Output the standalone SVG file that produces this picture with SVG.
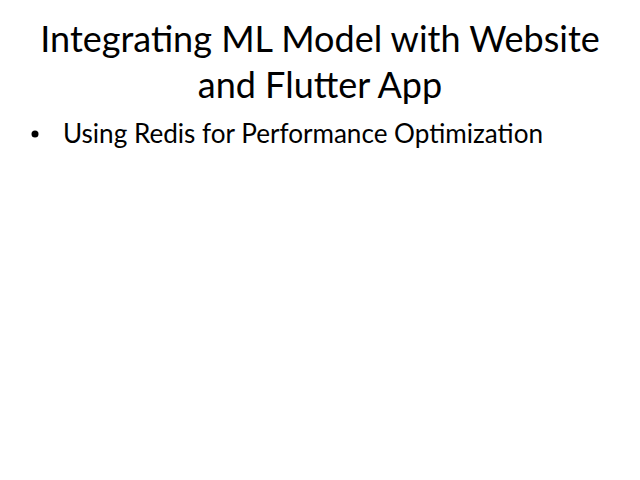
<svg xmlns="http://www.w3.org/2000/svg" width="640" height="480" viewBox="0 0 640 480">
<style>
.t{font-family:Lato,"Open Sans","Liberation Sans",sans-serif;fill:#000}
</style>
<rect width="640" height="480" fill="#fff"/>
<g id="title">
<text class="t" x="320" y="52" font-size="36" text-anchor="middle">Integrating ML Model with Website</text>
<text class="t" x="320" y="98" font-size="36" text-anchor="middle">and Flutter App</text>
</g>
<g id="bullet">
<circle cx="35" cy="134" r="3.5" fill="#000"/>
<text class="t" x="63" y="143" font-size="26" textLength="480" lengthAdjust="spacingAndGlyphs">Using Redis for Performance Optimization</text>
</g>
</svg>
